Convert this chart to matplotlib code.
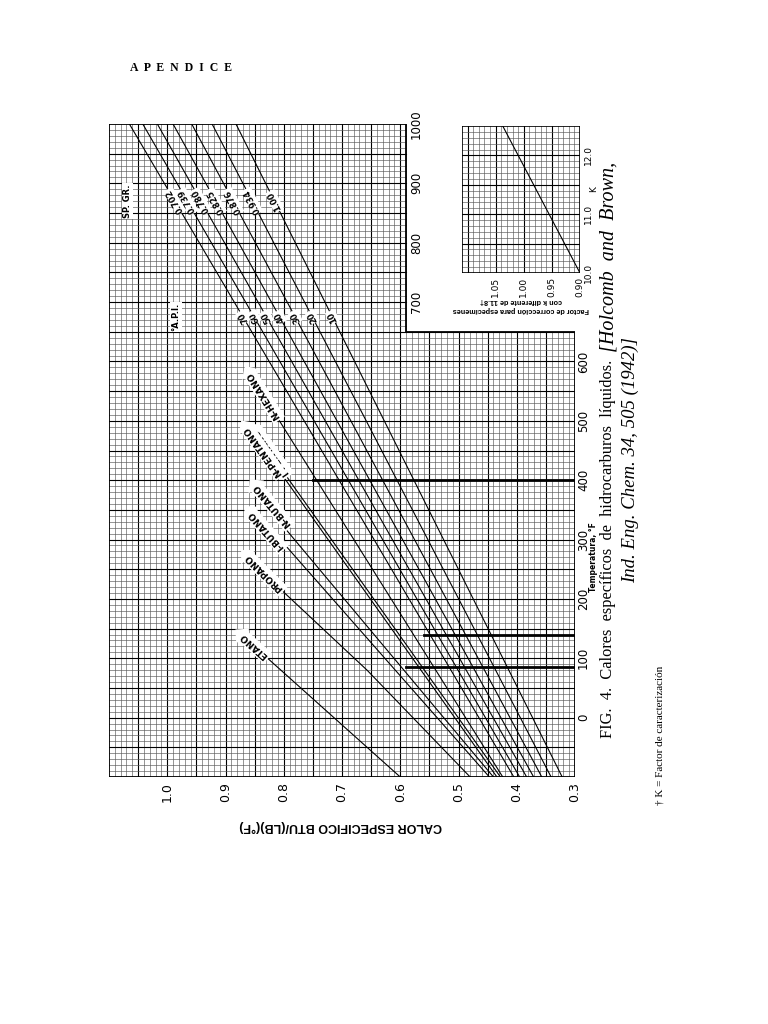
import numpy as np
import matplotlib.pyplot as plt

api = [10, 20, 30, 40, 50, 60, 70]
sp_gr = ['1.00', '0.934', '0.876', '0.825', '0.780', '0.739', '0.702']
cp_t_menos100 = [0.322, 0.341, 0.357, 0.371, 0.383, 0.395, 0.405]
cp_t_1000 = [0.882, 0.923, 0.958, 0.990, 1.017, 1.042, 1.065]
t_extremos = [-100, 1000]

# hidrocarburos puros
hc_nombres = ['ETANO', 'PROPANO', 'I-BUTANO', 'N-BUTANO', 'I-PENTANO', 'N-PENTANO', 'N-HEXANO']
hc_t = [[-100, 102], [-100, 80, 215], [-100, 290], [-100, 318],
        [-100, 405], [-100, 413], [-100, 504]]
hc_cp = [[0.600, 0.830], [0.480, 0.657, 0.804], [0.447, 0.797], [0.440, 0.797],
         [0.434, 0.800], [0.428, 0.800], [0.424, 0.810]]
hc_va = ['center', 'center', 'bottom', 'top', 'top', 'bottom', 'center']

# trazos gruesos
marca_t = [400, 140, 85]
marca_cp = [0.75, 0.56, 0.59]

# grafico chico: factor de correccion contra K
k_vals = [10.0, 12.5]
factor_vals = [0.90, 1.0375]

cp_ticks = [1.0, 0.9, 0.8, 0.7, 0.6, 0.5, 0.4, 0.3]
t_ticks = [0, 100, 200, 300, 400, 500, 600, 700, 800, 900, 1000]
f_ticks = [1.05, 1.00, 0.95, 0.90]
k_ticks = [10.0, 11.0, 12.0]

W, H = 768, 1024
fig = plt.figure(figsize=(W / 100, H / 100), dpi=100)
fig.patch.set_facecolor('white')

def fx(px):
    return px / W

def fy(py):
    return 1 - py / H

# ---------------- grafico principal (girado 90 grados) ----------------
ax = fig.add_axes([fx(109), fy(777), (575 - 109) / W, (777 - 124) / H])
ax.set_xlim(1.1, 0.3)
ax.set_ylim(-100, 1000)
ax.axis('off')

cp_corte, t_corte = 0.59, 650

for i in range(31, 110):
    cp = i / 100
    tmax = 1000 if cp >= cp_corte - 1e-9 else t_corte
    mayor = i % 5 == 0
    ax.plot([cp, cp], [-100, tmax], color='black' if mayor else '0.35',
            lw=0.8 if mayor else 0.45, zorder=1)
for t in range(-90, 1000, 10):
    cpmin = 0.3 if t <= t_corte else cp_corte
    mayor = t % 50 == 0
    ax.plot([1.1, cpmin], [t, t], color='black' if mayor else '0.35',
            lw=0.8 if mayor else 0.45, zorder=1)

ax.plot([1.1, 0.3, 0.3, cp_corte, cp_corte, 1.1, 1.1],
        [-100, -100, t_corte, t_corte, 1000, 1000, -100],
        color='black', lw=1.3, zorder=3)

def angulo(cp0, t0, cp1, t1):
    p0 = ax.transData.transform((cp0, t0))
    p1 = ax.transData.transform((cp1, t1))
    return np.degrees(np.arctan2(p1[1] - p0[1], p1[0] - p0[0]))

for a, sg, c0, c1 in zip(api, sp_gr, cp_t_menos100, cp_t_1000):
    ax.plot([c0, c1], t_extremos, color='black', lw=0.8, zorder=2)
    ang = angulo(c0, -100, c1, 1000)
    for t_lab, txt in [(675, str(a)), (870, sg)]:
        cp_lab = np.interp(t_lab, t_extremos, [c0, c1])
        ax.text(cp_lab, t_lab, txt, rotation=ang, rotation_mode='anchor',
                ha='center', va='center', fontsize=6, fontweight='bold',
                bbox=dict(fc='white', ec='none', pad=0.5), zorder=5)

for nombre, ts, cps, va in zip(hc_nombres, hc_t, hc_cp, hc_va):
    ax.plot(cps, ts, color='black', lw=0.8, zorder=2)
    ang = angulo(cps[0], ts[0], cps[-1], ts[-1])
    ax.text(cps[-1], ts[-1], nombre, rotation=ang, rotation_mode='anchor',
            ha='left', va=va, fontsize=6.5, fontweight='bold',
            bbox=dict(boxstyle='rarrow,pad=0.25', fc='white', ec='none'), zorder=5)

for t, cp in zip(marca_t, marca_cp):
    ax.plot([cp, 0.3], [t, t], color='black', lw=2.0, zorder=4)

ax.text(1.068, 870, 'SP. GR.', rotation=90, ha='center', va='center',
        fontsize=6, fontweight='bold', bbox=dict(fc='white', ec='none', pad=0.8), zorder=5)
ax.text(0.985, 675, '°A.P.I.', rotation=90, ha='center', va='center',
        fontsize=6, fontweight='bold', bbox=dict(fc='white', ec='none', pad=0.8), zorder=5)

for cp in cp_ticks:
    ax.text(cp, -109, f'{cp:.1f}', rotation=90, ha='center', va='top',
            fontsize=9, clip_on=False)
for t in t_ticks:
    x = 0.2965 if t <= 600 else cp_corte - 0.007
    ax.text(x, t, str(t), rotation=90, ha='left', va='center', fontsize=8.5, clip_on=False)

fig.text(fx(341), fy(826), 'CALOR ESPECIFICO BTU/(LB)(°F)', rotation=180,
         ha='center', va='center', fontsize=9, fontweight='bold', family='Liberation Sans')
fig.text(fx(594), fy(557), 'Temperatura, °F', rotation=90, ha='center', va='center',
         fontsize=5.5, fontweight='bold')

# ---------------- grafico chico ----------------
ax2 = fig.add_axes([fx(462), fy(273), (580 - 462) / W, (273 - 126) / H])
ax2.set_xlim(1.11, 0.90)
ax2.set_ylim(10.0, 12.5)
ax2.axis('off')
for i in range(91, 111):
    f = i / 100
    ax2.plot([f, f], [10.0, 12.5], color='black' if i % 5 == 0 else '0.35',
             lw=0.8 if i % 5 == 0 else 0.45, zorder=1)
for j in range(1, 25):
    k = 10 + j / 10
    ax2.plot([1.11, 0.90], [k, k], color='black' if j % 5 == 0 else '0.35',
             lw=0.8 if j % 5 == 0 else 0.45, zorder=1)
ax2.plot([1.11, 0.90, 0.90, 1.11, 1.11], [10, 10, 12.5, 12.5, 10], color='black', lw=1.2, zorder=3)
ax2.plot(factor_vals, k_vals, color='black', lw=0.8, zorder=2)
for f in f_ticks:
    ax2.text(f, 9.93, f'{f:.2f}', rotation=90, ha='center', va='top', fontsize=6.5, clip_on=False)
for k in k_ticks:
    ax2.text(0.893, k, f'{k:.1f}', rotation=90, ha='left', va='center', fontsize=6.5, clip_on=False)
ax2.text(0.884, 11.42, 'K', rotation=90, ha='left', va='center', fontsize=6.5, clip_on=False)
fig.text(fx(521), fy(305), 'Factor de corrección para especímenes\ncon k diferente de 11.8†',
         rotation=180, ha='center', va='center', fontsize=5.2, fontweight='bold',
         family='Liberation Sans', linespacing=1.3)

# ---------------- textos de la pagina ----------------
fig.text(fx(130), fy(68), 'A  P  E  N  D  I  C  E', ha='left', va='center',
         fontsize=8.5, fontweight='bold', family='Liberation Serif')
fig.text(fx(608), fy(738), 'FIG.  4.  Calores  específicos  de  hidrocarburos  líquidos.',
         rotation=90, ha='center', va='bottom', fontsize=11.8, family='Liberation Serif')
fig.text(fx(609), fy(352), '[Holcomb  and  Brown,', rotation=90, ha='center', va='bottom',
         fontsize=14.5, style='italic', family='Liberation Serif')
fig.text(fx(630), fy(583), 'Ind. Eng. Chem. 34, 505 (1942)]', rotation=90, ha='center',
         va='bottom', fontsize=13.5, style='italic', family='Liberation Serif')
fig.text(fx(660), fy(805), '† K = Factor de caracterización', rotation=90, ha='center',
         va='bottom', fontsize=8, family='Liberation Serif')

fig.savefig('out.png', dpi=100, facecolor='white')
